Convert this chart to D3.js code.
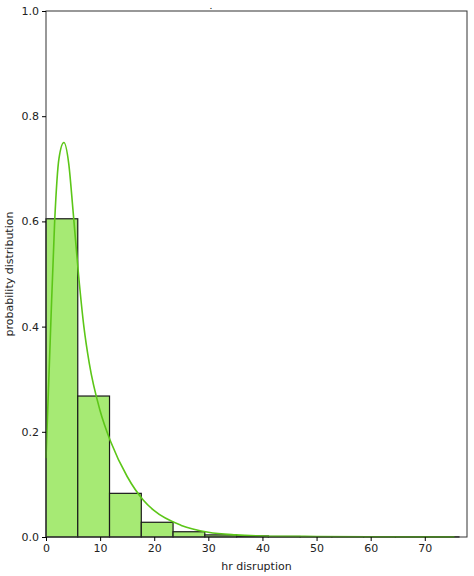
<!DOCTYPE html><html><head><meta charset="utf-8"><script src="https://cdn.jsdelivr.net/npm/d3@7"></script>
<style>body{margin:0;background:#fff}text{font-family:"DejaVu Sans",sans-serif}</style></head><body><svg id="c" width="474" height="576"></svg>
<script>
const binEdges=[0,5.87,11.74,17.61,23.48,29.35,35.22,41.09,46.96,52.83,58.7,64.57,70.44,76.31];
const binValues=[0.605,0.268,0.083,0.028,0.010,0.004,0.002,0.001,0.0006,0.0005,0.0004,0.0003,0.0003];
const kdeX=[0,0.8,1.6,2.4,3.3,4.2,5,6,7,8,10,12,15,18,20,25,30,35,40,50,60,70,75.5];
const kdeY=[0.15,0.38,0.6,0.72,0.75,0.71,0.62,0.5,0.4,0.33,0.24,0.18,0.115,0.07,0.05,0.022,0.009,0.004,0.002,0.001,0.0005,0.0003,0.0002];
const xTicks=[0,10,20,30,40,50,60,70], yTicks=[0,0.2,0.4,0.6,0.8,1.0];
const svg=d3.select("#c");
const L=46,R=467,T=11,B=537;
const x=d3.scaleLinear().domain([0,77.8]).range([L,R]);
const y=d3.scaleLinear().domain([0,1]).range([B,T]);
svg.append("g").selectAll("rect").data(binValues).join("rect")
 .attr("x",(d,i)=>x(binEdges[i])).attr("width",(d,i)=>x(binEdges[i+1])-x(binEdges[i]))
 .attr("y",d=>y(d)).attr("height",d=>B-y(d))
 .attr("fill","#a6ea74").attr("stroke","#1a1a1a").attr("stroke-width",1.2);
svg.append("path").datum(kdeX.map((v,i)=>[v,kdeY[i]])).attr("fill","none").attr("stroke","#5cc618").attr("stroke-width",1.6)
 .attr("d",d3.line().x(d=>x(d[0])).y(d=>y(d[1])).curve(d3.curveMonotoneX));
svg.append("rect").attr("x",L).attr("y",T).attr("width",R-L).attr("height",B-T).attr("fill","none").attr("stroke","#333").attr("stroke-width",1);
svg.append("g").attr("transform",`translate(0,${B})`).call(d3.axisBottom(x).tickValues(xTicks).tickFormat(d3.format("d")).tickSize(4))
 .call(g=>g.select(".domain").remove()).selectAll("text").attr("font-size",11).attr("fill","#222");
svg.append("g").attr("transform",`translate(${L},0)`).call(d3.axisLeft(y).tickValues(yTicks).tickFormat(d3.format(".1f")).tickSize(4))
 .call(g=>g.select(".domain").remove()).selectAll("text").attr("font-size",11).attr("fill","#222");
svg.append("text").attr("x",(L+R)/2).attr("y",570).attr("text-anchor","middle").attr("font-size",11).attr("fill","#222").text("hr disruption");
svg.append("text").attr("transform","translate(13,274) rotate(-90)").attr("text-anchor","middle").attr("font-size",11).attr("fill","#222").text("probability distribution");
svg.append("text").attr("x",211).attr("y",9).attr("text-anchor","middle").attr("font-size",9).text(".");
</script></body></html>
